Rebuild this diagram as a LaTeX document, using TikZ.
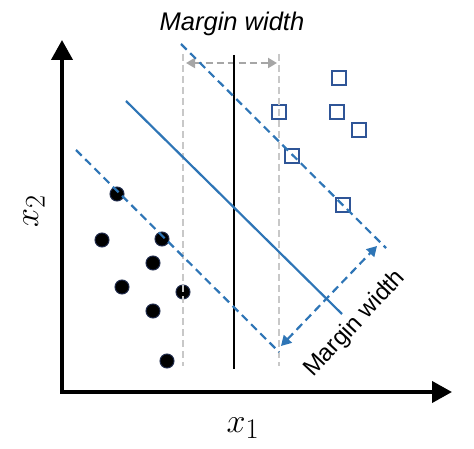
\documentclass[tikz,border=0pt]{standalone}
\usepackage{fontspec}
\setmainfont{Liberation Sans}
\usetikzlibrary{arrows.meta}
\definecolor{svmblue}{HTML}{2E75B6}
\definecolor{sqblue}{HTML}{2F5597}
\definecolor{lgray}{HTML}{C8C8C8}
\definecolor{agray}{HTML}{A6A6A6}
\definecolor{dotedge}{HTML}{1F2A4A}
\tikzset{
  axisline/.style={line width=4pt,-{Triangle[width=21pt,length=20pt]}},
  dot/.style={circle,fill=black,draw=dotedge,line width=1pt,minimum size=14pt,inner sep=0pt},
  sq/.style={rectangle,draw=sqblue,line width=1.5pt,minimum size=14pt,inner sep=0pt},
  graydash/.style={draw=lgray,line width=2.2pt,dash pattern=on 7pt off 4pt},
  bluedash/.style={draw=svmblue,line width=2.2pt,dash pattern=on 8pt off 5pt},
  lab/.style={font=\fontsize{24}{28}\selectfont,inner sep=0pt},
  axlab/.style={inner sep=0pt,font=\Huge,scale=1.37}
}
\begin{document}
\begin{tikzpicture}[x=1pt,y=-1pt]
\useasboundingbox (0,0) rectangle (474,449);
% data points
\node[dot] (c1) at (117,194) {};
\node[dot] (c2) at (102,240) {};
\node[dot] (c3) at (162,239) {};
\node[dot] (c4) at (153,263) {};
\node[dot] (c5) at (122,287) {};
\node[dot] (c6) at (183,292) {};
\node[dot] (c7) at (153,311) {};
\node[dot] (c8) at (167,361) {};
\node[sq] (s1) at (339,78) {};
\node[sq] (s2) at (279,112) {};
\node[sq] (s3) at (337,112) {};
\node[sq] (s4) at (359,130) {};
\node[sq] (s5) at (292,156) {};
\node[sq] (s6) at (343,205) {};
% gray margin lines
\coordinate (g1a) at (183,54); \coordinate (g1b) at (183,366);
\coordinate (g2a) at (279,54); \coordinate (g2b) at (279,366);
\draw[graydash] (g1a) -- (g1b);
\draw[graydash] (g2a) -- (g2b);
\coordinate (ga1) at (186,63); \coordinate (ga2) at (277,63);
\draw[draw=agray,line width=2pt,dash pattern=on 7pt off 4pt,{Triangle[width=10pt,length=9pt]}-{Triangle[width=10pt,length=9pt]}] (ga1) -- (ga2);
% black separator
\coordinate (b1) at (234,55); \coordinate (b2) at (234,369);
\draw[line width=2pt] (b1) -- (b2);
% blue lines
\coordinate (h1) at (126,101); \coordinate (h2) at (342,314);
\draw[svmblue,line width=2.2pt] (h1) -- (h2);
\coordinate (u1) at (181,44); \coordinate (u2) at (386,248);
\draw[bluedash] (u1) -- (u2);
\coordinate (l1) at (76,150); \coordinate (l2) at (279,352);
\draw[bluedash] (l1) -- (l2);
\coordinate (m1) at (281,346); \coordinate (m2) at (377,246);
\draw[bluedash,{Triangle[width=11pt,length=10pt]}-{Triangle[width=11pt,length=10pt]}] (m1) -- (m2);
% axes
\coordinate (o) at (62,392);
\coordinate (ytip) at (62,40);
\coordinate (xtip) at (452,392);
\draw[axisline] ([yshift=2pt]o) -- (ytip);
\draw[axisline] ([xshift=-2pt]o) -- (xtip);
% labels
\node[lab,font=\itshape\fontsize{25.5}{30}\selectfont] (tm) at (232,24) {Margin width};
\node[lab,rotate=47] (dm) at (355,324) {Margin width};
\node[axlab] (x1) at (243,428) {$x_1$};
\node[axlab,rotate=90] (x2) at (34,211) {$x_2$};
\end{tikzpicture}
\end{document}
